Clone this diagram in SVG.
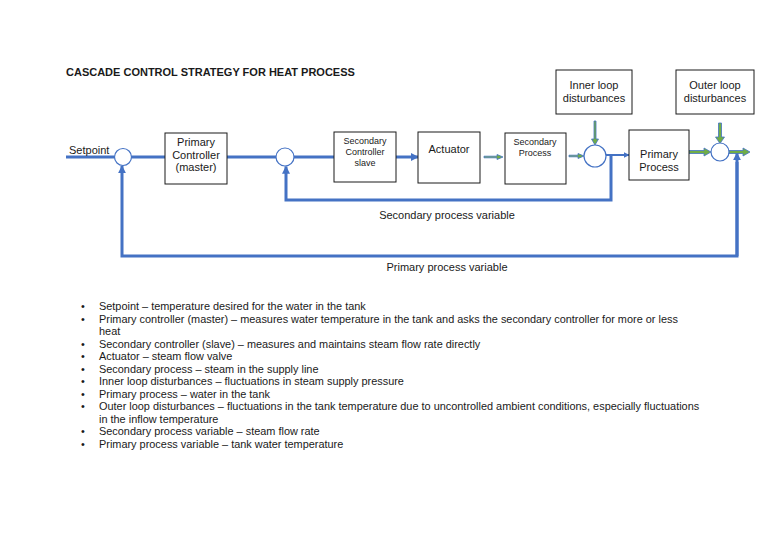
<svg xmlns="http://www.w3.org/2000/svg" width="768" height="543" viewBox="0 0 768 543">
<defs>
<style>
text{font-family:"Liberation Sans",Arial,sans-serif;fill:#1a1a1a}
.t{font-size:11px}
.s{font-size:9px}
.box{fill:#fff;stroke:#1a1a1a;stroke-width:1}
.sum{fill:#fff;stroke:#4472C4;stroke-width:1.2}
.bl{fill:none;stroke:#4472C4;stroke-width:3}
.bl2{fill:none;stroke:#4472C4;stroke-width:2}
.ga{fill:#70AD47;stroke:#4472C4;stroke-width:0.8}
</style>
<marker id="ah" viewBox="0 0 10 10" refX="9" refY="5" markerWidth="8" markerHeight="8" markerUnits="userSpaceOnUse" orient="auto">
<path d="M0,0 L10,5 L0,10 Z" fill="#4472C4"/>
</marker>
<marker id="ahs" viewBox="0 0 10 10" refX="9" refY="5" markerWidth="6" markerHeight="6" markerUnits="userSpaceOnUse" orient="auto">
<path d="M0,0 L10,5 L0,10 Z" fill="#4472C4"/>
</marker>
</defs>
<rect width="768" height="543" fill="#fff"/>
<text x="66" y="76" style="font-size:11px;font-weight:bold">CASCADE CONTROL STRATEGY FOR HEAT PROCESS</text>

<g id="connectors">
<path class="bl" d="M66,157 H114.5"/>
<path class="bl" d="M131.5,157 H165"/>
<path class="bl" d="M227,157 H276"/>
<path class="bl" d="M294,157 H334"/>
<path class="bl" d="M396,157 H418" marker-end="url(#ah)"/>
<path class="bl2" d="M606,155 H629" marker-end="url(#ahs)"/>
<path class="bl" d="M611,155 V200 H286 V166.5" marker-end="url(#ah)"/>
<path class="bl" d="M737,162 V256 H122 V166" marker-end="url(#ah)"/>
<path class="bl" d="M737,256 V153" marker-end="url(#ah)"/>
<polygon class="ga" points="484,156.2 497,156.2 497,154.5 503,157 497,159.5 497,157.8 484,157.8"/>
<polygon class="ga" points="569,155.2 578,155.2 578,153.5 584,156 578,158.5 578,156.8 569,156.8"/>
<polygon class="ga" points="594,121 596,121 596,139 598.5,139 595,145 591.5,139 594,139"/>
<polygon class="ga" points="689,150.5 704,150.5 704,148 711,152 704,156 704,153.5 689,153.5"/>
<polygon class="ga" points="718.5,123 721.5,123 721.5,137 724.5,137 720,143.5 715.5,137 718.5,137"/>
<polygon class="ga" points="729,150.5 743,150.5 743,148 750,152 743,156 743,153.5 729,153.5"/>
</g>

<g id="setpoint"><text class="t" x="69" y="154">Setpoint</text></g>
<g id="sum1"><circle class="sum" cx="123" cy="157" r="8.5"/></g>
<g id="primary-controller">
<rect class="box" x="165" y="133" width="62" height="51"/>
<text class="t" text-anchor="middle" x="196" y="146">Primary</text>
<text class="t" text-anchor="middle" x="196" y="159">Controller</text>
<text class="t" text-anchor="middle" x="196" y="171">(master)</text>
</g>
<g id="sum2"><circle class="sum" cx="285" cy="157" r="9"/></g>
<g id="secondary-controller">
<rect class="box" x="334" y="132" width="62" height="50"/>
<text class="s" text-anchor="middle" x="365" y="144">Secondary</text>
<text class="s" text-anchor="middle" x="365" y="155">Controller</text>
<text class="s" text-anchor="middle" x="365" y="166">slave</text>
</g>
<g id="actuator">
<rect class="box" x="418" y="132" width="62" height="51"/>
<text class="t" text-anchor="middle" x="449" y="153">Actuator</text>
</g>
<g id="secondary-process">
<rect class="box" x="505" y="133" width="61" height="51"/>
<text class="s" text-anchor="middle" x="535" y="145">Secondary</text>
<text class="s" text-anchor="middle" x="535" y="156">Process</text>
</g>
<g id="inner-disturbances">
<rect class="box" x="556" y="70" width="76" height="44"/>
<text class="t" text-anchor="middle" x="594" y="89">Inner loop</text>
<text class="t" text-anchor="middle" x="594" y="102">disturbances</text>
</g>
<g id="sum3"><circle class="sum" cx="595" cy="156" r="11"/></g>
<g id="primary-process">
<rect class="box" x="629" y="130" width="60" height="50"/>
<text class="t" text-anchor="middle" x="659" y="158">Primary</text>
<text class="t" text-anchor="middle" x="659" y="171">Process</text>
</g>
<g id="outer-disturbances">
<rect class="box" x="676" y="70" width="78" height="44"/>
<text class="t" text-anchor="middle" x="715" y="89">Outer loop</text>
<text class="t" text-anchor="middle" x="715" y="102">disturbances</text>
</g>
<g id="sum4"><circle class="sum" cx="720" cy="152" r="9"/></g>
<g id="labels">
<text class="t" text-anchor="middle" x="447" y="219">Secondary process variable</text>
<text class="t" text-anchor="middle" x="447" y="271">Primary process variable</text>
</g>

<g id="legend" style="font-size:10.92px">
<text x="81" y="310">•</text><text x="99" y="310">Setpoint – temperature desired for the water in the tank</text>
<text x="81" y="322.5">•</text><text x="99" y="322.5">Primary controller (master) – measures water temperature in the tank and asks the secondary controller for more or less</text>
<text x="99" y="335">heat</text>
<text x="81" y="347.5">•</text><text x="99" y="347.5">Secondary controller (slave) – measures and maintains steam flow rate directly</text>
<text x="81" y="360">•</text><text x="99" y="360">Actuator – steam flow valve</text>
<text x="81" y="372.5">•</text><text x="99" y="372.5">Secondary process – steam in the supply line</text>
<text x="81" y="385">•</text><text x="99" y="385">Inner loop disturbances – fluctuations in steam supply pressure</text>
<text x="81" y="397.5">•</text><text x="99" y="397.5">Primary process – water in the tank</text>
<text x="81" y="410">•</text><text x="99" y="410">Outer loop disturbances – fluctuations in the tank temperature due to uncontrolled ambient conditions, especially fluctuations</text>
<text x="99" y="422.5">in the inflow temperature</text>
<text x="81" y="435">•</text><text x="99" y="435">Secondary process variable – steam flow rate</text>
<text x="81" y="447.5">•</text><text x="99" y="447.5">Primary process variable – tank water temperature</text>
</g>
</svg>
